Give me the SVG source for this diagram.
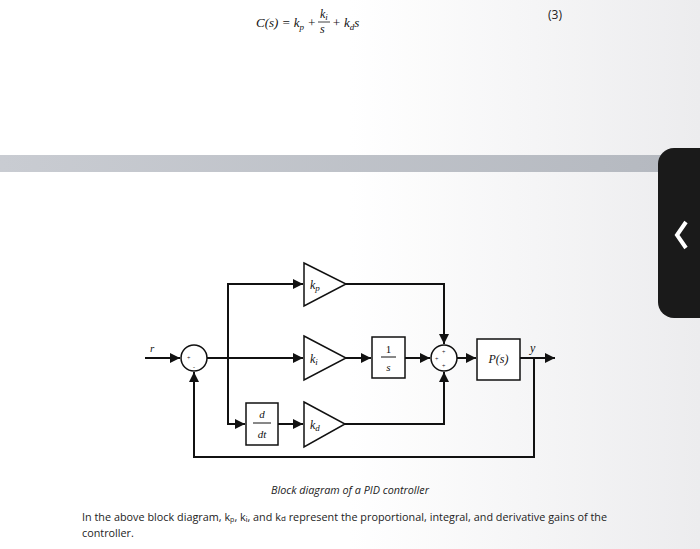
<svg xmlns="http://www.w3.org/2000/svg" width="700" height="549" viewBox="0 0 700 549">
<defs>
<linearGradient id="bg" x1="0" y1="0" x2="1" y2="0"><stop offset="0.5" stop-color="#ffffff"/><stop offset="1" stop-color="#ececee"/></linearGradient>
<linearGradient id="bar" x1="0" y1="0" x2="1" y2="0"><stop offset="0" stop-color="#c9ccd2"/><stop offset="1" stop-color="#b5b9c0"/></linearGradient>
<marker id="ar" viewBox="0 0 10 10" refX="10" refY="5" markerWidth="5" markerHeight="5" orient="auto"><path d="M0,0L10,5L0,10z" fill="#111"/></marker>
<style>
.ln{fill:none;stroke:#111;stroke-width:2}
.bx{fill:#fff;stroke:#111;stroke-width:1.5}
.m{font-family:"Liberation Serif",serif;font-style:italic;fill:#111}
.t{font-family:"Open Sans","Liberation Sans",sans-serif;fill:#222}
</style>
</defs>
<rect width="700" height="549" fill="url(#bg)"/>
<text class="m" x="256" y="27" font-size="13">C(s) = k<tspan font-size="9" dy="3">p</tspan><tspan dy="-3"> + </tspan></text>
<text class="m" x="320" y="18" font-size="12">k<tspan font-size="9" dy="2">i</tspan></text>
<line x1="318" y1="22" x2="330" y2="22" stroke="#111" stroke-width="0.8"/>
<text class="m" x="320" y="33" font-size="12">s</text>
<text class="m" x="332" y="27" font-size="13">+ k<tspan font-size="9" dy="3">d</tspan><tspan dy="-3">s</tspan></text>
<text class="t" x="548" y="19" font-size="12">(3)</text>
<rect x="0" y="155" width="670" height="17" fill="url(#bar)"/>
<rect x="658" y="148" width="60" height="170" rx="16" fill="#1a1a1a"/>
<path d="M686,222L677,235L686,248" fill="none" stroke="#fff" stroke-width="4"/>
<g id="connectors">
<path class="ln" d="M145,358H180" marker-end="url(#ar)"/>
<path class="ln" d="M207,358H303" marker-end="url(#ar)"/>
<path class="ln" d="M228,358V284H303" marker-end="url(#ar)"/>
<path class="ln" d="M228,358V424H245" marker-end="url(#ar)"/>
<path class="ln" d="M278,424H303" marker-end="url(#ar)"/>
<path class="ln" d="M346,358H371" marker-end="url(#ar)"/>
<path class="ln" d="M405,358H430" marker-end="url(#ar)"/>
<path class="ln" d="M346,284H444V344" marker-end="url(#ar)"/>
<path class="ln" d="M345,424H444V372" marker-end="url(#ar)"/>
<path class="ln" d="M457,358H476" marker-end="url(#ar)"/>
<path class="ln" d="M520,358H555" marker-end="url(#ar)"/>
<path class="ln" d="M534,358V457H194V372" marker-end="url(#ar)"/>
<text class="m" x="150" y="352" font-size="11">r</text>
<text class="m" x="530" y="352" font-size="12">y</text>
</g>
<g id="sum1"><circle class="bx" cx="194" cy="358" r="13"/><text x="187" y="360" font-size="6" fill="#111">+</text><text x="193" y="369" font-size="6" fill="#111">-</text></g>
<g id="kp"><path class="bx" d="M304,263L346,284L304,306z"/><text class="m" x="310" y="289" font-size="12">k<tspan font-size="9" dy="2">p</tspan></text></g>
<g id="ki"><path class="bx" d="M304,336L346,358L304,380z"/><text class="m" x="310" y="363" font-size="12">k<tspan font-size="9" dy="2">i</tspan></text></g>
<g id="kd"><path class="bx" d="M304,402L345,424L304,447z"/><text class="m" x="310" y="429" font-size="12">k<tspan font-size="9" dy="2">d</tspan></text></g>
<g id="integ"><rect class="bx" x="372" y="337" width="33" height="41"/><text class="m" x="388.5" y="353" font-size="11" text-anchor="middle" style="font-style:normal">1</text><line x1="381" y1="357" x2="396" y2="357" stroke="#111"/><text class="m" x="388.5" y="371" font-size="11" text-anchor="middle">s</text></g>
<g id="deriv"><rect class="bx" x="246" y="403" width="32" height="42"/><text class="m" x="262" y="418" font-size="11" text-anchor="middle">d</text><line x1="253" y1="423" x2="271" y2="423" stroke="#111"/><text class="m" x="262" y="438" font-size="11" text-anchor="middle">dt</text></g>
<g id="sum2"><circle class="bx" cx="444" cy="358" r="13"/><text x="442" y="354" font-size="6" fill="#111">+</text><text x="435" y="361" font-size="6" fill="#111">+</text><text x="442" y="368" font-size="6" fill="#111">+</text></g>
<g id="plant"><rect class="bx" x="477" y="339" width="43" height="41"/><text class="m" x="498.5" y="363" font-size="12" text-anchor="middle">P(s)</text></g>
<text class="t" x="350" y="494" font-size="10.8" font-style="italic" text-anchor="middle">Block diagram of a PID controller</text>
<text class="t" x="82" y="521" font-size="10.8" textLength="525">In the above block diagram, kₚ, kᵢ, and k<tspan font-size="8">d</tspan> represent the proportional, integral, and derivative gains of the</text>
<text class="t" x="82" y="537" font-size="10.8">controller.</text>
</svg>
